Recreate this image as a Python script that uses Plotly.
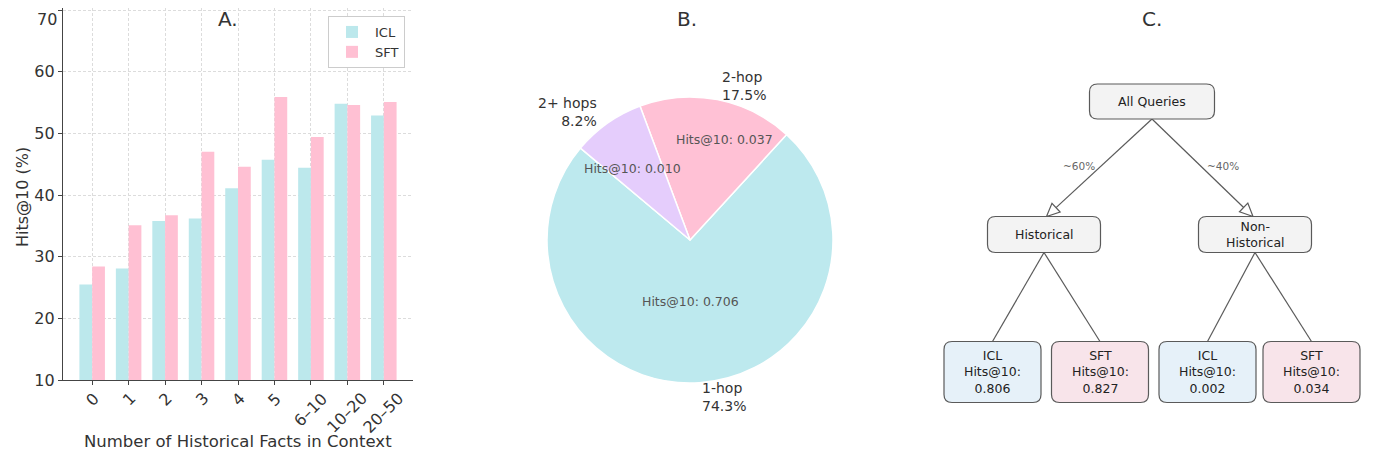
import math
import plotly.graph_objects as go

W, H = 1377, 470
OX, OY = 8, 8            # page body margin of the browser
FW, FH = W - 2 * OX, H - 2 * OY

# ---------------- data ----------------
categories = ["0", "1", "2", "3", "4", "5", "6–10", "10–20", "20–50"]
icl_values = [25.5, 28.1, 35.8, 36.2, 41.1, 45.7, 44.4, 54.8, 52.9]
sft_values = [28.4, 35.1, 36.7, 47.0, 44.6, 55.9, 49.4, 54.6, 55.1]
y_ticks = [10, 20, 30, 40, 50, 60, 70]

pie_labels = ["1-hop", "2-hop", "2+ hops"]
pie_shares = [74.3, 17.5, 8.2]
pie_hits = [0.706, 0.037, 0.010]

tree_root = "All Queries"
tree_groups = ["Historical", "Non-<br>Historical"]
tree_group_shares = ["~60%", "~40%"]
tree_methods = ["ICL", "SFT"]
tree_hits = [[0.806, 0.827], [0.002, 0.034]]

# ---------------- styles ----------------
FONT = "DejaVu Sans"
TXT = "#333333"
ICL_C = "#bce8ec"
SFT_C = "#ffc0d3"
PIE_C = ["#bde9ee", "#ffc1d5", "#e5cdfc"]
GRID = "#dcdcdc"

def px_x(x):
    return (x - OX) / FW

def px_y(y):
    return 1 - (y - OY) / FH

fig = go.Figure()

# ---------------- Panel A: bars ----------------
fig.add_trace(go.Bar(x=categories, y=icl_values, name="ICL", marker_color=ICL_C,
                     marker_line_width=0, xaxis="x", yaxis="y"))
fig.add_trace(go.Bar(x=categories, y=sft_values, name="SFT", marker_color=SFT_C,
                     marker_line_width=0, xaxis="x", yaxis="y"))

annotations = []
for c in categories:
    annotations.append(dict(x=c, xref="x", y=px_y(386), yref="paper", text=c,
                            showarrow=False, textangle=-45, xanchor="center",
                            yanchor="top", font=dict(family=FONT, size=16, color=TXT)))
# top y tick label placed so that it stays fully inside the page
y_ticktext = [str(v) for v in y_ticks[:-1]] + [""]
annotations.append(dict(x=px_x(59), y=1.0, xref="paper", yref="paper",
                        text=str(y_ticks[-1]), showarrow=False, xanchor="right",
                        yanchor="top", font=dict(family=FONT, size=16, color=TXT)))
annotations.append(dict(x=px_x(238), y=px_y(441), xref="paper", yref="paper",
                        text="Number of Historical Facts in Context", showarrow=False,
                        xanchor="center", yanchor="middle",
                        font=dict(family=FONT, size=16.5, color=TXT)))
annotations.append(dict(x=px_x(22), y=px_y(197), xref="paper", yref="paper",
                        text="Hits@10 (%)", showarrow=False, textangle=-90,
                        xanchor="center", yanchor="middle",
                        font=dict(family=FONT, size=16, color=TXT)))
for t, x in [("A.", 228), ("B.", 687), ("C.", 1152)]:
    annotations.append(dict(x=px_x(x), y=px_y(19), xref="paper", yref="paper",
                            text=t, showarrow=False, xanchor="center", yanchor="middle",
                            font=dict(family=FONT, size=20, color=TXT)))

# ---------------- Panel B: pie ----------------
cx, cy, R = 690, 240, 143
start = 140.0                       # start angle of first slice (deg, ccw from +x)
tot = sum(pie_shares)
rot = (90 - start) - pie_shares[0] / tot * 360   # plotly: first ccw slice ends at rotation
fig.add_trace(go.Pie(labels=pie_labels, values=pie_shares, sort=False,
                     direction="counterclockwise", rotation=rot,
                     marker=dict(colors=PIE_C, line=dict(color="white", width=1.5)),
                     textinfo="none", hoverinfo="label+percent", showlegend=False,
                     domain=dict(x=[px_x(cx - R), px_x(cx + R)],
                                 y=[px_y(cy + R), px_y(cy - R)])))

cum = 0.0
for lab, v in zip(pie_labels, pie_shares):
    mid = math.radians(start + (cum + v / 2) / tot * 360)
    cum += v
    lx = cx + 1.1 * R * math.cos(mid)
    ly = cy - 1.1 * R * math.sin(mid)
    left = math.cos(mid) > 0
    annotations.append(dict(x=px_x(lx), y=px_y(ly), xref="paper", yref="paper",
                            text=f"{lab}<br>{v:.1f}%", showarrow=False,
                            xanchor="left" if left else "right", yanchor="middle",
                            align="left" if left else "right",
                            font=dict(family=FONT, size=14, color=TXT)))

inner_offsets = [(0, 61), (34, -101), (-58, -72)]
for h, (dx, dy) in zip(pie_hits, inner_offsets):
    annotations.append(dict(x=px_x(cx + dx), y=px_y(cy + dy), xref="paper", yref="paper",
                            text=f"Hits@10: {h:.3f}", showarrow=False,
                            xanchor="center", yanchor="middle",
                            font=dict(family=FONT, size=12.5, color="#555555")))

# ---------------- Panel C: tree ----------------
TX0 = 925
fig.add_trace(go.Scatter(x=[1000], y=[300], mode="markers", marker=dict(opacity=0),
                         hoverinfo="skip", showlegend=False, xaxis="x3", yaxis="y3"))

shapes = []
EDGE = "#5a5a5a"

def rrect(x0, y0, x1, y1, r=8):
    return (f"M {x0+r},{y0} L {x1-r},{y0} Q {x1},{y0} {x1},{y0+r} "
            f"L {x1},{y1-r} Q {x1},{y1} {x1-r},{y1} L {x0+r},{y1} "
            f"Q {x0},{y1} {x0},{y1-r} L {x0},{y0+r} Q {x0},{y0} {x0+r},{y0} Z")

def box(cxb, cyb, w, h, fill, text):
    shapes.append(dict(type="path", xref="x3", yref="y3",
                       path=rrect(cxb - w / 2, cyb - h / 2, cxb + w / 2, cyb + h / 2),
                       fillcolor=fill, line=dict(color=EDGE, width=1.2), layer="above"))
    annotations.append(dict(x=cxb, y=cyb, xref="x3", yref="y3", text=text,
                            showarrow=False, xanchor="center", yanchor="middle",
                            font=dict(family=FONT, size=12.5, color="#222222")))

def line(x0, y0, x1, y1):
    shapes.append(dict(type="line", xref="x3", yref="y3", x0=x0, y0=y0, x1=x1, y1=y1,
                       line=dict(color=EDGE, width=1.2), layer="above"))

root = (1152, 101.5, 125, 35)
groups = [(1044, 234.5, 113, 36), (1255, 234.5, 113, 36)]
leaves = [[(992.5, 372), (1100, 372)], [(1207.5, 372), (1311.5, 372)]]
LW, LH = 97, 61

rx, ry = root[0], root[1] + root[3] / 2
for gi, (gx, gy, gw, gh) in enumerate(groups):
    tx = gx + (2.5 if gi == 0 else -2)
    ty = gy - gh / 2
    dx, dy = tx - rx, ty - ry
    L = math.hypot(dx, dy)
    ux, uy = dx / L, dy / L
    al, aw = 13, 6
    bx, by = tx - al * ux, ty - al * uy
    line(rx, ry, bx, by)
    qx, qy = -uy, ux
    shapes.append(dict(type="path", xref="x3", yref="y3",
                       path=f"M {tx},{ty} L {bx + aw*qx},{by + aw*qy} L {bx - aw*qx},{by - aw*qy} Z",
                       fillcolor="white", line=dict(color=EDGE, width=1.2), layer="above"))
    mx, my = (rx + tx) / 2, (ry + ty) / 2
    annotations.append(dict(x=mx + (-20 if gi == 0 else 20), y=my - 2, xref="x3", yref="y3",
                            text=tree_group_shares[gi], showarrow=False,
                            xanchor="center", yanchor="middle",
                            font=dict(family=FONT, size=10.5, color="#666666")))
    for li, (lx, ly) in enumerate(leaves[gi]):
        line(gx, gy + gh / 2, lx, ly - LH / 2)

box(root[0], root[1], root[2], root[3], "#f3f3f3", tree_root)
for gi, (gx, gy, gw, gh) in enumerate(groups):
    box(gx, gy, gw, gh, "#f3f3f3", tree_groups[gi])
    for li, (lx, ly) in enumerate(leaves[gi]):
        fill = "#e6f1f9" if li == 0 else "#f8e4ea"
        box(lx, ly, LW, LH, fill,
            f"{tree_methods[li]}<br>Hits@10:<br>{tree_hits[gi][li]:.3f}")

# ---------------- layout ----------------
YMIN, YMAX = 10, 70
PPU = 370 / (YMAX - YMIN)          # pixels per unit in the reference
YPAD = 0.3                          # small headroom so the top gridline is kept
fig.update_layout(
    width=FW, height=FH, margin=dict(l=0, r=0, t=0, b=0, pad=0, autoexpand=False),
    paper_bgcolor="white", plot_bgcolor="rgba(0,0,0,0)",
    font=dict(family=FONT, color=TXT),
    barmode="group", bargap=0.3, bargroupgap=0,
    xaxis=dict(domain=[px_x(63), px_x(413)], range=[-0.8, 8.8], type="category",
               showgrid=True, gridcolor=GRID, griddash="3px,2px", gridwidth=1,
               showline=True, linecolor="#444444", linewidth=1.3,
               ticks="outside", ticklen=4, tickcolor="#444444",
               showticklabels=False, zeroline=False, automargin=False),
    yaxis=dict(domain=[px_y(380), px_y(10 - YPAD * PPU)], range=[YMIN, YMAX + YPAD],
               tickvals=y_ticks, ticktext=y_ticktext,
               showgrid=True, gridcolor=GRID, griddash="3px,2px", gridwidth=1,
               showline=True, linecolor="#444444", linewidth=1.3,
               ticks="outside", ticklen=4, tickcolor="#444444",
               tickfont=dict(family=FONT, size=16, color=TXT), zeroline=False,
               automargin=False),
    xaxis3=dict(domain=[px_x(TX0), 1], range=[TX0, OX + FW], visible=False, anchor="y3"),
    yaxis3=dict(domain=[0, 1], range=[OY + FH, OY], visible=False, anchor="x3"),
    legend=dict(x=px_x(405), xanchor="right", y=px_y(16), yanchor="top",
                bgcolor="white", bordercolor="#cccccc", borderwidth=1,
                tracegroupgap=0, itemwidth=36,
                font=dict(family=FONT, size=13, color=TXT)),
    shapes=shapes, annotations=annotations,
)

fig.write_html("out.html")
